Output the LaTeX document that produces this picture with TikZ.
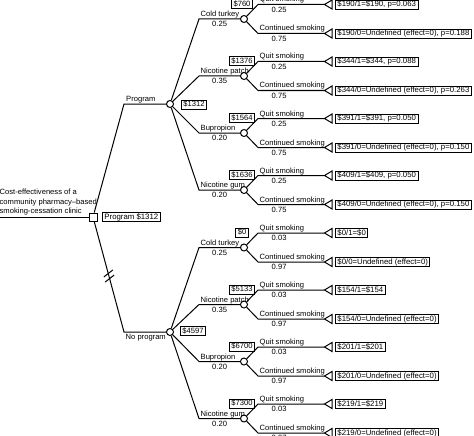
\documentclass[tikz,border=0pt]{standalone}
\usepackage{fontspec}
\setmainfont{Liberation Sans}
\tikzset{
  edge/.style={line width=1pt, draw=black},
  chance/.style={circle, draw, fill=white, line width=1pt, minimum size=7pt, inner sep=0pt},
  decision/.style={rectangle, draw, fill=white, line width=1pt, minimum size=8pt, inner sep=0pt},
  lbl/.style={inner sep=0pt, font=\fontsize{7.6}{9.5}\selectfont},
  valbox/.style={draw, line width=0.9pt, inner xsep=2pt, inner ysep=1pt, text height=5.8pt, text depth=1.2pt, font=\fontsize{7.6}{9}\selectfont},
  resbox/.style={valbox, font=\fontsize{7.8}{9}\selectfont},
}
% #1 id, #2 parent, #3 y, #4 label, #5 prob, #6 cost, #7 quit prob, #8 res1, #9 res2
\newcommand\mytreat[9]{%
  \coordinate (#1-in) at (199,#3);
  \node[chance] (#1) at (244,#3) {};
  \draw[edge] (#2) -- (#1-in) -- (#1);
  \node[lbl,anchor=base west] (#1-lab) at (200.5,#3-2.5) {#4};
  \node[lbl,anchor=north west] (#1-p) at (212,#3+2) {#5};
  \node[valbox,anchor=south] (#1-c) at (242,#3-10) {\$#6};
  \coordinate (#1-qin) at (258,#3-14.5);
  \coordinate (#1-qt) at (324.5,#3-14.5);
  \coordinate (#1-sin) at (258,#3+14.5);
  \coordinate (#1-st) at (324.5,#3+14.5);
  \draw[edge] (#1) -- (#1-qin) -- (#1-qt);
  \draw[edge] (#1) -- (#1-sin) -- (#1-st);
  \draw[edge, fill=white] (#1-qt) -- ++(7.5,-4.5) -- ++(0,9) -- cycle;
  \draw[edge, fill=white] (#1-st) -- ++(7.5,-4.5) -- ++(0,9) -- cycle;
  \node[lbl,anchor=base west] (#1-ql) at (259.5,#3-17) {Quit smoking};
  \node[lbl,anchor=north west] (#1-qp) at (271.5,#3-12.5) {#7};
  \node[lbl,anchor=base west] (#1-sl) at (259.5,#3+12) {Continued smoking};
  \node[lbl,anchor=north west] (#1-sp) at (271.5,#3+16.5) {\contp};
  \node[resbox,anchor=west] (#1-r1) at (335,#3-14.5) {#8};
  \node[resbox,anchor=west] (#1-r2) at (335,#3+14.5) {#9};
}
\begin{document}
\begin{tikzpicture}[x=1pt,y=-1pt]
\useasboundingbox (0,0) rectangle (474,436);
% root
\coordinate (start) at (0,217);
\node[decision] (root) at (93,217) {};
\draw[edge] (start) -- (root);
\node[lbl, anchor=south west, align=left] (title) at (-0.5,215.5) {Cost-effectiveness of a\\community pharmacy–based\\smoking-cessation clinic};
\node[resbox, anchor=west] (rootc) at (102,217) {Program \$1312};
% program
\coordinate (pbend) at (124,104);
\node[chance] (prog) at (170,104) {};
\draw[edge] (root) -- (pbend) -- (prog);
\node[lbl, anchor=base west] (progl) at (126,101.5) {Program};
\node[valbox, anchor=west] (progc) at (181,104.5) {\$1312};
% no program
\coordinate (nbend) at (124,332);
\node[chance] (noprog) at (170,332) {};
\draw[edge] (root) -- (nbend) -- (noprog);
\node[lbl, anchor=north west] (noprogl) at (125.5,334) {No program};
\node[valbox, anchor=west] (noprogc) at (180,331) {\$4597};
% break mark
\draw[edge] (103.9,276.9) -- (112.9,269.9);
\draw[edge] (105.1,282.1) -- (114.1,275.1);
% program branches
\def\contp{0.75}
\mytreat{pa}{prog}{19}{Cold turkey}{0.25}{760}{0.25}{\$190/1=\$190, p=0.063}{\$190/0=Undefined (effect=0), p=0.188}
\mytreat{pb}{prog}{76}{Nicotine patch}{0.35}{1376}{0.25}{\$344/1=\$344, p=0.088}{\$344/0=Undefined (effect=0), p=0.263}
\mytreat{pc}{prog}{133}{Bupropion}{0.20}{1564}{0.25}{\$391/1=\$391, p=0.050}{\$391/0=Undefined (effect=0), p=0.150}
\mytreat{pd}{prog}{190}{Nicotine gum}{0.20}{1636}{0.25}{\$409/1=\$409, p=0.050}{\$409/0=Undefined (effect=0), p=0.150}
% no program branches
\def\contp{0.97}
\mytreat{na}{noprog}{247.5}{Cold turkey}{0.25}{0}{0.03}{\$0/1=\$0}{\$0/0=Undefined (effect=0)}
\mytreat{nb}{noprog}{304.5}{Nicotine patch}{0.35}{5133}{0.03}{\$154/1=\$154}{\$154/0=Undefined (effect=0)}
\mytreat{nc}{noprog}{361.5}{Bupropion}{0.20}{6700}{0.03}{\$201/1=\$201}{\$201/0=Undefined (effect=0)}
\mytreat{nd}{noprog}{418.5}{Nicotine gum}{0.20}{7300}{0.03}{\$219/1=\$219}{\$219/0=Undefined (effect=0)}
\end{tikzpicture}
\end{document}
